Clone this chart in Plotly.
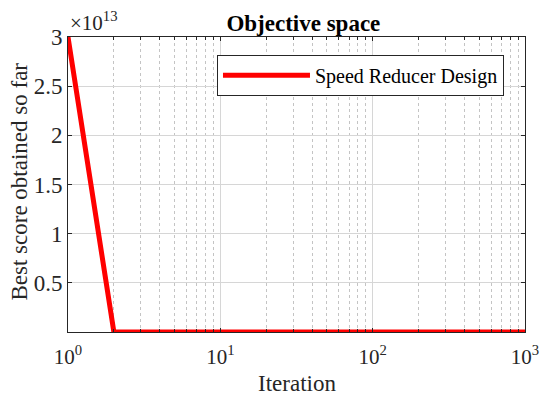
import plotly.graph_objects as go

# convergence curve (key points of the best-so-far score)
iteration = [1, 2, 1000]
best_score = [3.0e13, 2994.47, 2994.47]

x_tick_vals = [1, 10, 100, 1000]
x_tick_text = ["10<sup>0</sup>", "10<sup>1</sup>", "10<sup>2</sup>", "10<sup>3</sup>"]
y_tick_vals = [0.5e13, 1e13, 1.5e13, 2e13, 2.5e13, 3e13]
y_tick_text = ["0.5", "1", "1.5", "2", "2.5", "3"]

# minor log ticks 2..9 in each decade
minor_vals = [m * 10 ** d for d in range(3) for m in range(2, 10)]

font_family = "Liberation Serif"
axis_color = "#262626"

fig = go.Figure()
fig.add_trace(go.Scatter(x=iteration, y=best_score, mode="lines",
                         name="Speed Reducer Design",
                         line=dict(color="#ff0000", width=5)))

# page body adds an 8px margin, so the figure is 8px smaller than the window
fig.update_layout(
    width=542, height=393,
    margin=dict(l=60, r=25, t=29, b=69),
    paper_bgcolor="white", plot_bgcolor="white",
    font=dict(family=font_family, size=21, color=axis_color),
    title=dict(text="<b>Objective space</b>", x=0.545, xanchor="center",
               y=0.962, yanchor="middle",
               font=dict(family=font_family, size=23, color="black")),
    showlegend=True,
    legend=dict(x=0.326, y=0.94, xanchor="left", yanchor="top",
                bgcolor="white", bordercolor=axis_color, borderwidth=1,
                itemwidth=87,
                font=dict(family=font_family, size=20, color="black")),
)

fig.update_xaxes(
    type="log", range=[0, 3], automargin=False,
    tickvals=x_tick_vals, ticktext=x_tick_text,
    tickfont=dict(size=21), ticklabelstandoff=6,
    ticks="inside", ticklen=4, tickcolor=axis_color,
    showline=True, linecolor=axis_color, linewidth=1, mirror="allticks",
    showgrid=True, gridcolor="#d6d6d6", gridwidth=1,
    minor=dict(tickmode="array", tickvals=minor_vals,
               ticks="inside", ticklen=3, tickcolor=axis_color,
               showgrid=True, gridcolor="#c4c4c4", griddash="dot", gridwidth=1),
    zeroline=False,
)
fig.update_yaxes(
    range=[0, 3e13], automargin=False,
    tickvals=y_tick_vals, ticktext=y_tick_text,
    tickfont=dict(size=23),
    ticks="inside", ticklen=4, tickcolor=axis_color,
    showline=True, linecolor=axis_color, linewidth=1, mirror="allticks",
    showgrid=True, gridcolor="#d6d6d6", gridwidth=1,
    zeroline=False,
)

# axis titles
fig.add_annotation(text="Iteration", xref="paper", yref="paper",
                   x=0.5, y=-0.173, xanchor="center", yanchor="middle",
                   showarrow=False, font=dict(family=font_family, size=23, color=axis_color))
fig.add_annotation(text="Best score obtained so far", xref="paper", yref="paper",
                   x=-0.105, y=0.51, xanchor="center", yanchor="middle", textangle=-90,
                   showarrow=False, font=dict(family=font_family, size=23, color=axis_color))

# exponent label
fig.add_annotation(text="×10<sup>13</sup>", xref="paper", yref="paper",
                   x=0.0, y=1.0, xanchor="left", yanchor="bottom",
                   showarrow=False,
                   font=dict(family=font_family, size=21, color=axis_color))

fig.write_html("out.html")
